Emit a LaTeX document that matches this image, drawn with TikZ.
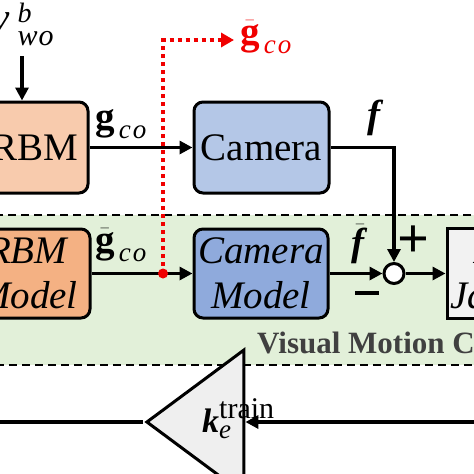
\documentclass[tikz,border=0pt]{standalone}
\usepackage{amsmath}
\usepackage{fontspec}
\setmainfont{Liberation Serif}
\usetikzlibrary{shapes,arrows.meta}

\definecolor{rbmc}{HTML}{F8CBAD}
\definecolor{rbmmc}{HTML}{F4B183}
\definecolor{camc}{HTML}{B4C7E7}
\definecolor{cammc}{HTML}{8FAADC}
\definecolor{grnc}{HTML}{E2F0D9}
\definecolor{jacc}{HTML}{F2F2F2}
\definecolor{gainc}{HTML}{EFEFEF}
\definecolor{txtgray}{HTML}{404040}
\definecolor{redc}{HTML}{F00000}

\newcommand{\bfup}[1]{\textbf{#1}}
\newcommand{\bfit}[1]{\textbf{\textit{#1}}}
\newcommand{\scr}[1]{\text{\fontsize{27}{29}\selectfont\textit{#1}}}
\newcommand{\co}{\scr{c\kern2pt o}}

\begin{document}
\begin{tikzpicture}[x=1pt,y=-1pt,
      every node/.style={font=\fontsize{39}{45}\selectfont,inner sep=0pt},
      block/.style={draw,line width=3pt,rounded corners=9pt,align=center},
      arr/.style={line width=3.2pt,-{Triangle[length=13pt,width=13pt]}},
      redarr/.style={redc,line width=4.2pt,dash pattern=on 4pt off 4pt,-{Triangle[length=13pt,width=14pt]}}]
  \useasboundingbox (0,0) rectangle (474,474);
  \clip (0,0) rectangle (474,474);
  % model area
  \draw[fill=grnc,line width=2pt,dash pattern=on 8pt off 5pt] (-10,215) rectangle (490,365);
  \node[anchor=base west,font=\fontsize{31}{33}\selectfont\bfseries,text=txtgray] (vmc) at (257,353) {Visual Motion Control};

  \node[block,fill=rbmc,minimum width=107pt,minimum height=91pt] (rbm) at (34.5,147.5) {RBM};
  \node[block,fill=camc,minimum width=135pt,minimum height=91pt] (cam) at (261.5,147.5) {Camera};
  \node[block,fill=rbmmc,minimum width=124pt,minimum height=89pt] (rbmm) at (28,273.5) {\textit{RBM}\\\textit{Model}};
  \node[block,fill=cammc,minimum width=134pt,minimum height=89pt] (camm) at (261,273.5) {\textit{Camera}\\\textit{Model}};
  \node[draw,line width=3pt,fill=jacc,minimum width=150pt,minimum height=90pt,align=center] (jac) at (522,273.5) {\textit{Image}\\\textit{Jacobian}};
  \node[circle,draw,line width=3pt,fill=white,minimum size=20pt] (sum) at (394,273.5) {};
  \node[isosceles triangle,shape border rotate=180,isosceles triangle stretches,draw,line width=3pt,
        fill=gainc,minimum width=144pt,minimum height=97pt,anchor=apex] (gain) at (143,422) {};

  % input
  \node[anchor=base west] (vwo) at (-8,30) {\textit{v}\kern8pt\rlap{\raisebox{8pt}{\fontsize{28}{30}\selectfont\textit{b}}}\raisebox{-15pt}{\fontsize{30}{32}\selectfont\textit{w\kern1pt o}}};
  \coordinate (vin) at (22,56);
  \draw[arr] (vin) -- (vin |- rbm.north);

  % signals
  \draw[arr] (rbm) -- (cam);
  \node[anchor=base west] (gco) at (95,129) {$\bfup{g}_{\,\co}$};
  \draw[arr] (cam.east) -| (sum.north);
  \node[anchor=base] (fl) at (376,127) {$\bfit{f}$};
  \draw[arr] (rbmm) -- (camm);
  \node[anchor=base west] (gbco) at (95,252) {$\bar{\bfup{g}}_{\,\co}$};
  \draw[arr] (camm) -- (sum);
  \node[anchor=base] (fbl) at (360,255) {$\bar{\bfit{f}}$};
  \node (minus) at (367,293) {\rule{24pt}{4pt}};
  \node[font=\fontsize{56}{58}\selectfont\bfseries] (plus) at (413,242) {+};
  \draw[arr] (sum) -- (jac);

  % feedback
  \coordinate (fbin) at (490,422);
  \coordinate (fbout) at (-10,422);
  \draw[arr] (fbin) -- (gain.lower side);
  \draw[line width=3.2pt] (gain.apex) -- (fbout);
  \node[anchor=base west,font=\fontsize{34}{36}\selectfont] (klab) at (202,432) {$\bfit{k}_{\scr{e}}^{\text{\fontsize{30}{32}\selectfont train}}$};

  % red branch
  \coordinate (rdot) at (163,273.5);
  \coordinate (rtip) at (234,40);
  \draw[redarr] (rdot) |- (rtip);
  \fill[redc] (rdot) circle (5pt);
  \node[anchor=base west,text=redc] (gbred) at (240,44) {$\bar{\bfup{g}}_{\,\co}$};
\end{tikzpicture}
\end{document}
